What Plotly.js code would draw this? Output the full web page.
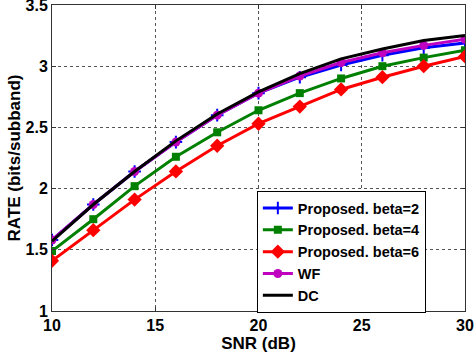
<!DOCTYPE html>
<html><head><meta charset="utf-8">
<script src="https://cdn.plot.ly/plotly-3.0.1.min.js"></script>
<style>html,body{margin:0;padding:0;background:#fff}#c{width:474px;height:354px}</style>
</head><body><div id="c"></div>
<script>
var snr = [10,12,14,16,18,20,22,24,26,28,30];
var beta2 = [1.58,1.87,2.14,2.38,2.60,2.78,2.91,3.01,3.09,3.15,3.19];
var beta4 = [1.49,1.75,2.02,2.26,2.46,2.64,2.78,2.90,3.00,3.07,3.13];
var beta6 = [1.41,1.66,1.91,2.14,2.35,2.53,2.67,2.81,2.91,3.00,3.08];
var wf    = [1.58,1.87,2.14,2.38,2.60,2.78,2.92,3.03,3.11,3.17,3.22];
var dc    = [1.57,1.87,2.14,2.39,2.61,2.79,2.94,3.06,3.14,3.21,3.25];
var names = ['Proposed. beta=2','Proposed. beta=4','Proposed. beta=6','WF','DC'];
var xTicks = [10,15,20,25,30];
var yTicks = [1,1.5,2,2.5,3,3.5];
var yTickText = ['1','1.5','2','2.5','3','3.5'];

var traces = [
 {x:snr,y:beta2,name:names[0],mode:'lines+markers',line:{color:'#0000ff',width:3},
  marker:{symbol:'cross-thin-open',size:9,color:'#0000ff',line:{color:'#0000ff',width:2}}},
 {x:snr,y:beta4,name:names[1],mode:'lines+markers',line:{color:'#008000',width:3},
  marker:{symbol:'square',size:8,color:'#008000'}},
 {x:snr,y:beta6,name:names[2],mode:'lines+markers',line:{color:'#ff0000',width:3},
  marker:{symbol:'diamond',size:11,color:'#ff0000'}},
 {x:snr,y:wf,name:names[3],mode:'lines+markers',line:{color:'#bf00bf',width:3},
  marker:{symbol:'circle',size:9,color:'#bf00bf'}},
 {x:snr,y:dc,name:names[4],mode:'lines',line:{color:'#000000',width:3}}
];
var FAM = 'Liberation Sans, Arial, sans-serif';
var ax = {showline:true,linecolor:'#333',linewidth:1,mirror:'ticks',ticks:'inside',ticklen:4,
  tickcolor:'#333',showgrid:true,gridcolor:'#555',griddash:'dot',gridwidth:1,zeroline:false,
  ticklabeloverflow:'allow',
  tickfont:{family:FAM,size:16,color:'#000',weight:'bold'}};
var layout = {
 width:474,height:354,margin:{l:52,r:9,t:5,b:43},paper_bgcolor:'#fff',plot_bgcolor:'#fff',
 font:{family:FAM,size:14,color:'#000'},
 xaxis:Object.assign({},ax,{range:[10,30],tickvals:xTicks,
   title:{text:'SNR (dB)',standoff:0,font:{family:FAM,size:17,color:'#000',weight:'bold'}}}),
 yaxis:Object.assign({},ax,{range:[1,3.5],tickvals:yTicks,ticktext:yTickText,
   title:{text:'RATE (bits/subband)',standoff:0,font:{family:FAM,size:17,color:'#000',weight:'bold'}}}),
 legend:{x:0.496,y:0.392,xanchor:'left',yanchor:'top',bgcolor:'#fff',bordercolor:'#000',borderwidth:1,
   font:{family:FAM,size:14.5,color:'#000',weight:'bold'},tracegroupgap:0},
 showlegend:true
};
Plotly.newPlot('c',traces,layout,{displayModeBar:false,staticPlot:true});
</script></body></html>
